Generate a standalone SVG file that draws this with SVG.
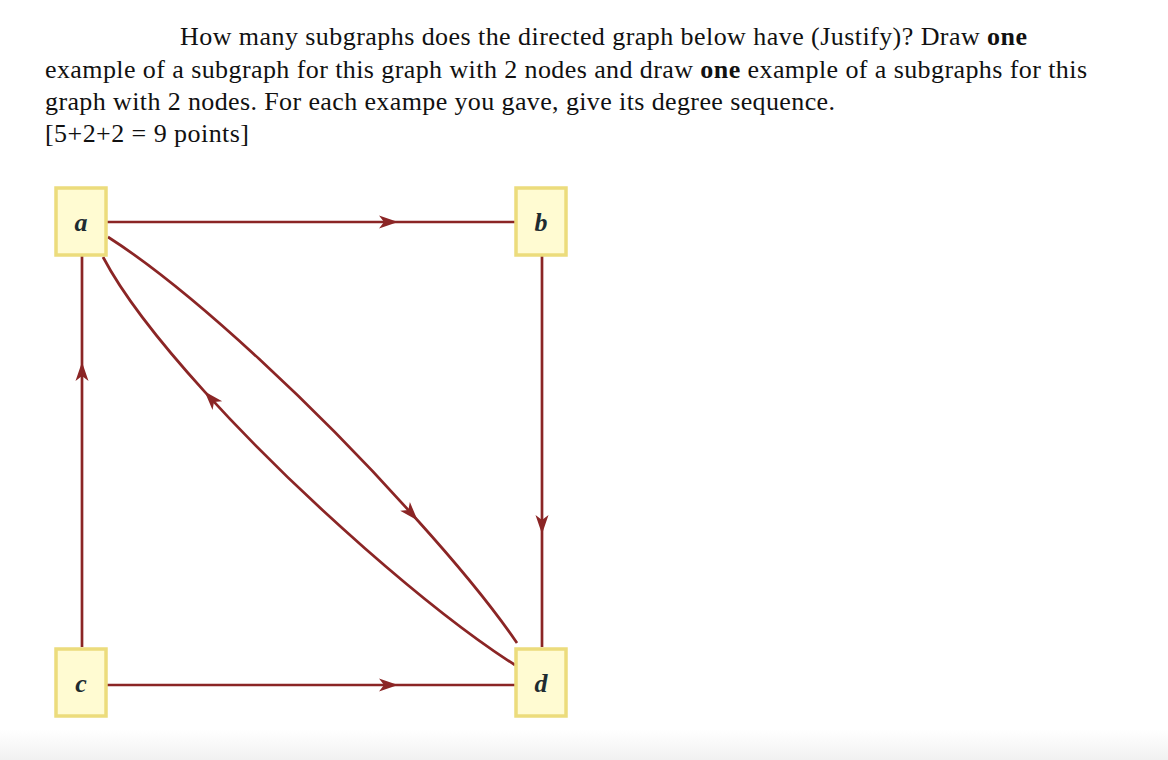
<svg xmlns="http://www.w3.org/2000/svg" width="1168" height="760" viewBox="0 0 1168 760">
<defs>
<linearGradient id="fade" x1="0" y1="0" x2="0" y2="1">
<stop offset="0" stop-color="#ffffff"/>
<stop offset="1" stop-color="#f1f1f1"/>
</linearGradient>
<marker id="arr" viewBox="-20 -8 22 16" markerWidth="22" markerHeight="16" refX="0" refY="0" orient="auto" markerUnits="userSpaceOnUse">
<path d="M0,0 L-19,-6.5 L-14,0 L-19,6.5 Z" fill="#8b2525"/>
</marker>
<style>
.q{font-family:"Liberation Serif","Times New Roman",serif;font-size:26px;fill:#111}
.b{font-weight:bold}
.node rect{fill:#fffbd2;stroke:#ecdc7c;stroke-width:3.5}
.node text{font-family:"Liberation Serif","Times New Roman",serif;font-style:italic;font-weight:bold;font-size:26px;fill:#1e2b30;text-anchor:middle}
.edge{fill:none;stroke:#8b2525;stroke-width:2.7;marker-mid:url(#arr)}
</style>
</defs>
<rect width="1168" height="760" fill="#ffffff"/>
<rect x="0" y="730" width="1168" height="30" fill="url(#fade)"/>
<g id="question">
<text class="q" x="180" y="45" textLength="847" lengthAdjust="spacing">How many subgraphs does the directed graph below have (Justify)? Draw <tspan class="b">one</tspan></text>
<text class="q" x="45" y="78" textLength="1042" lengthAdjust="spacing">example of a subgraph for this graph with 2 nodes and draw <tspan class="b">one</tspan> example of a subgraphs for this</text>
<text class="q" x="45" y="110" textLength="790" lengthAdjust="spacing">graph with 2 nodes. For each exampe you gave, give its degree sequence.</text>
<text class="q" x="45" y="142" textLength="204" lengthAdjust="spacing">[5+2+2 = 9 points]</text>
</g>
<g id="connectors">
<path class="edge" d="M106 222 L398 222 L515 222"/>
<path class="edge" d="M542 255 L542 534 L542 647"/>
<path class="edge" d="M82 647 L82 362 L82 255"/>
<path class="edge" d="M106 685 L398 685 L515 685"/>
<path class="edge" d="M108 237 C193.4 291.6 321.9 412.7 417.7 520.5 C458.7 566 493.9 609.1 517 643"/>
<path class="edge" d="M515 665 C432 612 300.1 496.9 204.6 391.6 C159.7 342.1 122.8 294.8 103 257"/>
</g>
<g id="node-a" class="node"><rect x="56" y="188" width="50" height="67"/><text x="81" y="231">a</text></g>
<g id="node-b" class="node"><rect x="516" y="188" width="50" height="67"/><text x="541" y="231">b</text></g>
<g id="node-c" class="node"><rect x="56" y="649" width="50" height="67"/><text x="81" y="692">c</text></g>
<g id="node-d" class="node"><rect x="516" y="649" width="50" height="67"/><text x="541" y="692">d</text></g>
</svg>
